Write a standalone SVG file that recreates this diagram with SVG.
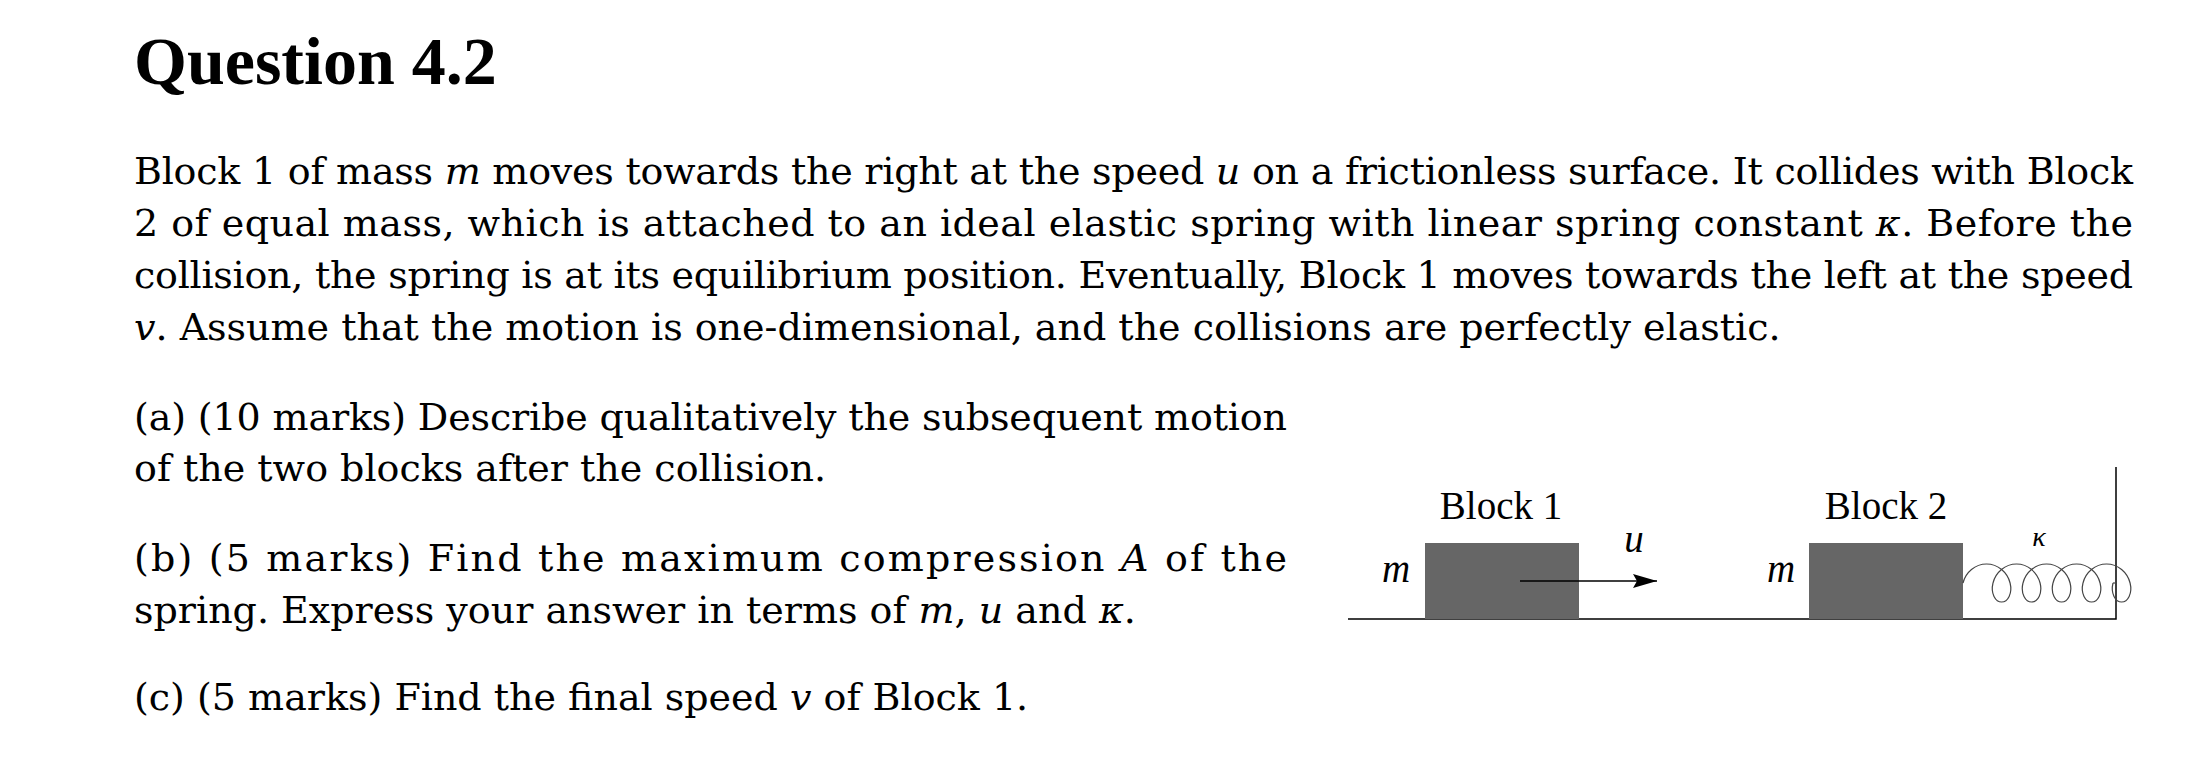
<svg xmlns="http://www.w3.org/2000/svg" width="2206" height="760" viewBox="0 0 2206 760">
<style>
text{font-family:"DejaVu Serif","Liberation Serif",serif;fill:#000}
.b{font-size:38px}
.t{font-size:68px;font-weight:bold;font-family:"Liberation Serif",serif}
.l{font-size:39px;font-family:"Liberation Serif",serif}
.i{font-style:italic}
.blk{fill:#666}
.ln{stroke:#000;stroke-width:1.5;fill:none}
.sp{stroke:#444;stroke-width:1.2;fill:none}
</style>
<defs>
<marker id="ah" viewBox="0 0 24 14" refX="24" refY="7" markerWidth="24" markerHeight="14" markerUnits="userSpaceOnUse" orient="auto"><path d="M0 0L24 7L0 14L4 7z" fill="#000"/></marker>
<path id="coil" d="M-8.46 583C-5.82 572.55 3.64 564 15.08 564C26.52 564 35.98 572.55 38.62 583C41.26 593.45 36.32 602 30.16 602C24 602 18.9 593.45 21.54 583"/>
</defs>
<g id="title"><text class="t" x="134" y="84">Question 4.2</text></g>
<g id="para">
<text class="b" x="134" y="184" textLength="1999" lengthAdjust="spacing">Block 1 of mass <tspan class="i">m</tspan> moves towards the right at the speed <tspan class="i">u</tspan> on a frictionless surface. It collides with Block</text>
<text class="b" x="134" y="236" textLength="1999" lengthAdjust="spacing">2 of equal mass, which is attached to an ideal elastic spring with linear spring constant <tspan class="i">κ</tspan>. Before the</text>
<text class="b" x="134" y="288" textLength="1999" lengthAdjust="spacing">collision, the spring is at its equilibrium position. Eventually, Block 1 moves towards the left at the speed</text>
<text class="b" x="134" y="340"><tspan class="i">v</tspan>. Assume that the motion is one-dimensional, and the collisions are perfectly elastic.</text>
</g>
<g id="qa">
<text class="b" x="134" y="430" textLength="1153" lengthAdjust="spacing">(a) (10 marks) Describe qualitatively the subsequent motion</text>
<text class="b" x="134" y="481">of the two blocks after the collision.</text>
</g>
<g id="qb">
<text class="b" x="134" y="571" textLength="1153" lengthAdjust="spacing">(b) (5 marks) Find the maximum compression <tspan class="i">A</tspan> of the</text>
<text class="b" x="134" y="623">spring. Express your answer in terms of <tspan class="i">m</tspan>, <tspan class="i">u</tspan> and <tspan class="i">κ</tspan>.</text>
</g>
<g id="qc"><text class="b" x="134" y="710">(c) (5 marks) Find the final speed <tspan class="i">v</tspan> of Block 1.</text></g>
<g id="ground"><path class="ln" d="M1348 619H2116V467"/></g>
<g id="block1">
<rect class="blk" x="1425" y="543" width="154" height="76"/>
<text class="l" x="1501" y="519" text-anchor="middle">Block 1</text>
<text class="l i" x="1396" y="582" text-anchor="middle">m</text>
</g>
<g id="block2">
<rect class="blk" x="1809" y="543" width="154" height="76"/>
<text class="l" x="1886" y="519" text-anchor="middle">Block 2</text>
<text class="l i" x="1781" y="582" text-anchor="middle">m</text>
</g>
<g id="spring" class="sp">
<use href="#coil" transform="translate(1971.46 0)"/>
<use href="#coil" transform="translate(2001.46 0)"/>
<use href="#coil" transform="translate(2031.46 0)"/>
<use href="#coil" transform="translate(2061.46 0)"/>
<use href="#coil" transform="translate(2091.46 0)"/>
<path d="M2113 583H2116"/>
<text class="l i" x="2039" y="546" text-anchor="middle" style="font-size:28px;stroke:none">κ</text>
</g>
<g id="connectors">
<line class="ln" x1="1520" y1="581" x2="1657" y2="581" marker-end="url(#ah)" style="stroke-width:1.5"/>
<text class="l i" x="1634" y="552" text-anchor="middle">u</text>
</g>
</svg>
